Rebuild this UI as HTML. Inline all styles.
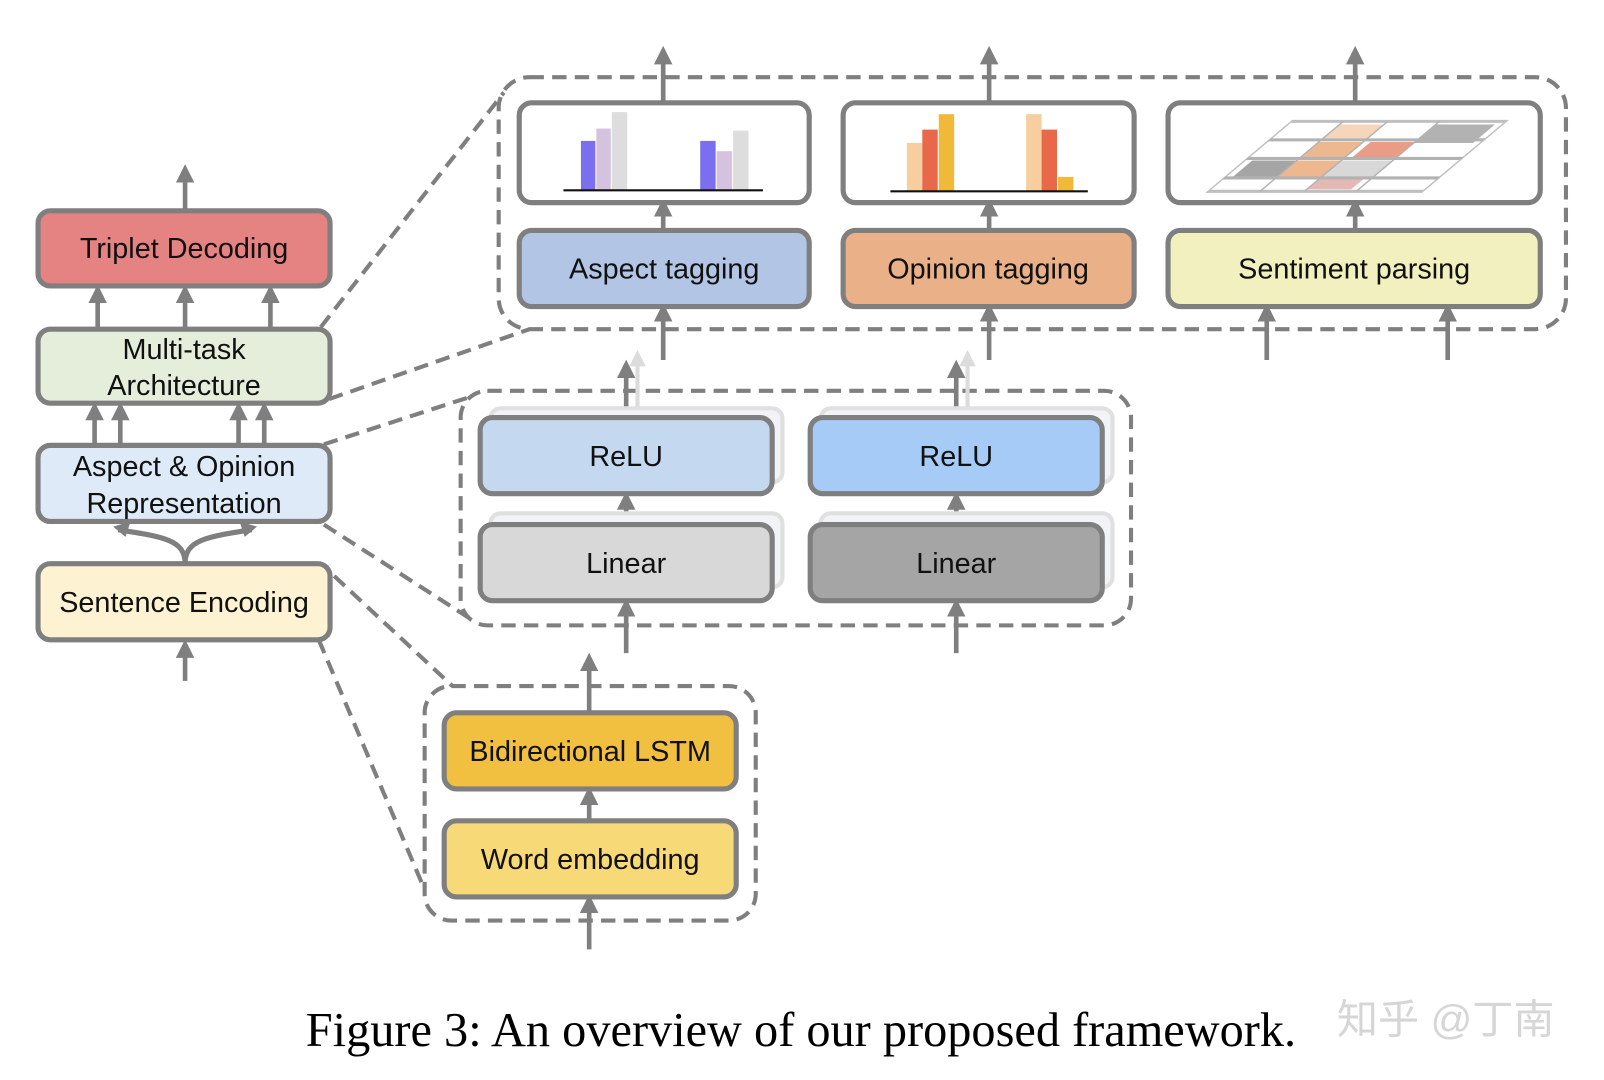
<!DOCTYPE html>
<html><head><meta charset="utf-8"><style>
html,body{margin:0;padding:0;background:#fff;width:1604px;height:1080px;overflow:hidden}
svg{display:block}
text{font-family:"Liberation Sans","DejaVu Sans",sans-serif;font-size:28px;fill:#111;text-anchor:middle}
</style></head><body>
<svg width="1604" height="1080" viewBox="0 0 1560 1050" preserveAspectRatio="none" xmlns="http://www.w3.org/2000/svg">
<defs>
<marker id="ah" viewBox="0 0 10 10" refX="7" refY="5" markerWidth="4" markerHeight="4" orient="auto" markerUnits="strokeWidth"><path d="M0,0 L10,5 L0,10 Z" fill="#7f7f7f"/></marker>
<marker id="ahl" viewBox="0 0 10 10" refX="7" refY="5" markerWidth="4" markerHeight="4" orient="auto" markerUnits="strokeWidth"><path d="M0,0 L10,5 L0,10 Z" fill="#dcdcdc"/></marker>
</defs>
<g fill="none" stroke="#7f7f7f" stroke-width="4" stroke-dasharray="14,8">
<rect x="485" y="75" width="1038" height="245" rx="30"/>
<rect x="448" y="380" width="652" height="228" rx="26"/>
<rect x="413" y="667" width="322" height="228" rx="26"/>
<line x1="312" y1="318" x2="490" y2="90"/>
<line x1="320" y1="388" x2="515" y2="320"/>
<line x1="315" y1="432" x2="460" y2="385"/>
<line x1="315" y1="510" x2="455" y2="600"/>
<line x1="325" y1="560" x2="440" y2="667"/>
<line x1="310" y1="622" x2="413" y2="865"/>
</g>
<g stroke="#7f7f7f" stroke-width="4.5" marker-end="url(#ah)">
<line x1="180" y1="205" x2="180" y2="165"/>
<line x1="95" y1="320" x2="95" y2="282"/><line x1="180" y1="320" x2="180" y2="282"/><line x1="263" y1="320" x2="263" y2="282"/>
<line x1="92" y1="433" x2="92" y2="396"/><line x1="117" y1="433" x2="117" y2="396"/><line x1="232" y1="433" x2="232" y2="396"/><line x1="257" y1="433" x2="257" y2="396"/>
<line x1="180" y1="662" x2="180" y2="627"/>
<line x1="645" y1="100" x2="645" y2="50"/><line x1="962" y1="100" x2="962" y2="50"/><line x1="1318" y1="100" x2="1318" y2="50"/>
<line x1="645" y1="224" x2="645" y2="198"/><line x1="962" y1="224" x2="962" y2="198"/><line x1="1318" y1="224" x2="1318" y2="198"/>
<line x1="645" y1="350" x2="645" y2="300"/><line x1="962" y1="350" x2="962" y2="300"/><line x1="1232" y1="350" x2="1232" y2="300"/><line x1="1408" y1="350" x2="1408" y2="300"/>
<line x1="609" y1="635" x2="609" y2="587"/><line x1="930" y1="635" x2="930" y2="587"/>
<line x1="573" y1="923" x2="573" y2="875"/><line x1="573" y1="798" x2="573" y2="770"/><line x1="573" y1="693" x2="573" y2="640"/>
</g>
<g stroke="#dcdcdc" stroke-width="4" marker-end="url(#ahl)">
<line x1="620" y1="400" x2="620" y2="345"/><line x1="941" y1="400" x2="941" y2="345"/>
</g>
<g stroke="#7f7f7f" stroke-width="4.5" marker-end="url(#ah)">
<line x1="609" y1="406" x2="609" y2="355"/><line x1="930" y1="406" x2="930" y2="355"/>
<line x1="609" y1="510" x2="609" y2="483"/><line x1="930" y1="510" x2="930" y2="483"/>
</g>
<path d="M180,548 C180,525 160,522 115,515 M180,548 C180,525 200,522 245,515" fill="none" stroke="#7f7f7f" stroke-width="5"/>
<path d="M110,512 L127,507 L122,522 Z M250,512 L233,507 L238,522 Z" fill="#7f7f7f"/>
<g fill="#f1f3f6" stroke="#e0e0e0" stroke-width="4">
<rect x="477" y="397" width="284" height="72" rx="10"/><rect x="798" y="397" width="284" height="72" rx="10"/>
<rect x="477" y="499" width="284" height="72" rx="10"/><rect x="798" y="499" width="284" height="72" rx="10"/>
</g>
<g stroke="#7f7f7f" stroke-width="5">
<rect x="37" y="205" width="284" height="73" rx="12" fill="#e58383"/>
<rect x="37" y="320" width="284" height="72" rx="12" fill="#e4eedb"/>
<rect x="37" y="433" width="284" height="74" rx="12" fill="#deeaf7"/>
<rect x="37" y="548" width="284" height="74" rx="12" fill="#fdf3d3"/>
<rect x="505" y="100" width="282" height="97" rx="12" fill="#fff"/>
<rect x="820" y="100" width="283" height="97" rx="12" fill="#fff"/>
<rect x="1136" y="100" width="362" height="97" rx="12" fill="#fff"/>
<rect x="505" y="224" width="282" height="74" rx="12" fill="#b3c5e5"/>
<rect x="820" y="224" width="283" height="74" rx="12" fill="#eab088"/>
<rect x="1136" y="224" width="362" height="74" rx="12" fill="#f3f0c0"/>
<rect x="467" y="406" width="284" height="74" rx="12" fill="#c4d8f0"/>
<rect x="788" y="406" width="284" height="74" rx="12" fill="#a6cbf7"/>
<rect x="467" y="510" width="284" height="74" rx="12" fill="#d8d8d8"/>
<rect x="788" y="510" width="284" height="74" rx="12" fill="#a5a5a5"/>
<rect x="432" y="693" width="284" height="74" rx="12" fill="#f2c040"/>
<rect x="432" y="798" width="284" height="74" rx="12" fill="#f7d978"/>
</g>
<rect x="565" y="137" width="14" height="48" fill="#7b6ff0"/><rect x="580" y="125" width="14" height="60" fill="#d4c2df"/><rect x="595" y="109" width="15" height="76" fill="#dddddd"/>
<rect x="681" y="137" width="15" height="48" fill="#7b6ff0"/><rect x="697" y="147" width="15" height="38" fill="#d4c2df"/><rect x="713" y="127" width="15" height="58" fill="#dddddd"/>
<line x1="548" y1="185" x2="742" y2="185" stroke="#111" stroke-width="2"/>
<rect x="882" y="139" width="15" height="47" fill="#f7cf9f"/><rect x="897" y="126" width="15" height="60" fill="#e8684a"/><rect x="913" y="111" width="15" height="75" fill="#f1b93a"/>
<rect x="998" y="111" width="15" height="75" fill="#f7cf9f"/><rect x="1013" y="126" width="15" height="60" fill="#e8684a"/><rect x="1029" y="172" width="15" height="14" fill="#f1b93a"/>
<line x1="866" y1="186" x2="1058" y2="186" stroke="#111" stroke-width="2"/>
<g transform="translate(1175,186) skewX(-50) scale(0.72,1)" opacity="0.75">
<rect x="0" y="-68" width="290" height="68" fill="#fff" stroke="#aaa" stroke-width="3"/>
<rect x="10" y="-30" width="60" height="18" fill="#888"/>
<rect x="130" y="-30" width="70" height="18" fill="#ccc"/>
<rect x="200" y="-65" width="80" height="18" fill="#999"/>
<rect x="70" y="-48" width="60" height="16" fill="#e8a06a"/>
<rect x="140" y="-48" width="60" height="16" fill="#e37b5f"/>
<rect x="70" y="-30" width="60" height="16" fill="#e8a06a"/>
<rect x="70" y="-65" width="60" height="14" fill="#f3c9a3"/>
<rect x="130" y="-12" width="60" height="10" fill="#d9a49a"/>
<g stroke="#999" stroke-width="3"><line x1="0" y1="-50" x2="290" y2="-50"/><line x1="0" y1="-32" x2="290" y2="-32"/><line x1="0" y1="-13" x2="290" y2="-13"/>
<line x1="70" y1="-68" x2="70" y2="0"/><line x1="130" y1="-68" x2="130" y2="0"/><line x1="200" y1="-68" x2="200" y2="0"/></g>
</g>
<text x="179" y="251">Triplet Decoding</text>
<text x="179" y="349">Multi-task</text><text x="179" y="384">Architecture</text>
<text x="179" y="463">Aspect &amp; Opinion</text><text x="179" y="499">Representation</text>
<text x="179" y="595">Sentence Encoding</text>
<text x="646" y="271">Aspect tagging</text>
<text x="961" y="271">Opinion tagging</text>
<text x="1317" y="271">Sentiment parsing</text>
<text x="609" y="453">ReLU</text><text x="930" y="453">ReLU</text>
<text x="609" y="557">Linear</text><text x="930" y="557">Linear</text>
<text x="574" y="740">Bidirectional LSTM</text>
<text x="574" y="845">Word embedding</text>
<text x="779" y="1017" style="font-family:'Liberation Serif',serif;font-size:47px;fill:#000">Figure 3: An overview of our proposed framework.</text>
<text x="1406" y="1005" style="font-family:'Liberation Sans','Noto Sans CJK SC',sans-serif;font-size:40px;fill:#d6d6d6">知乎 @丁南</text>
</svg>
</body></html>
